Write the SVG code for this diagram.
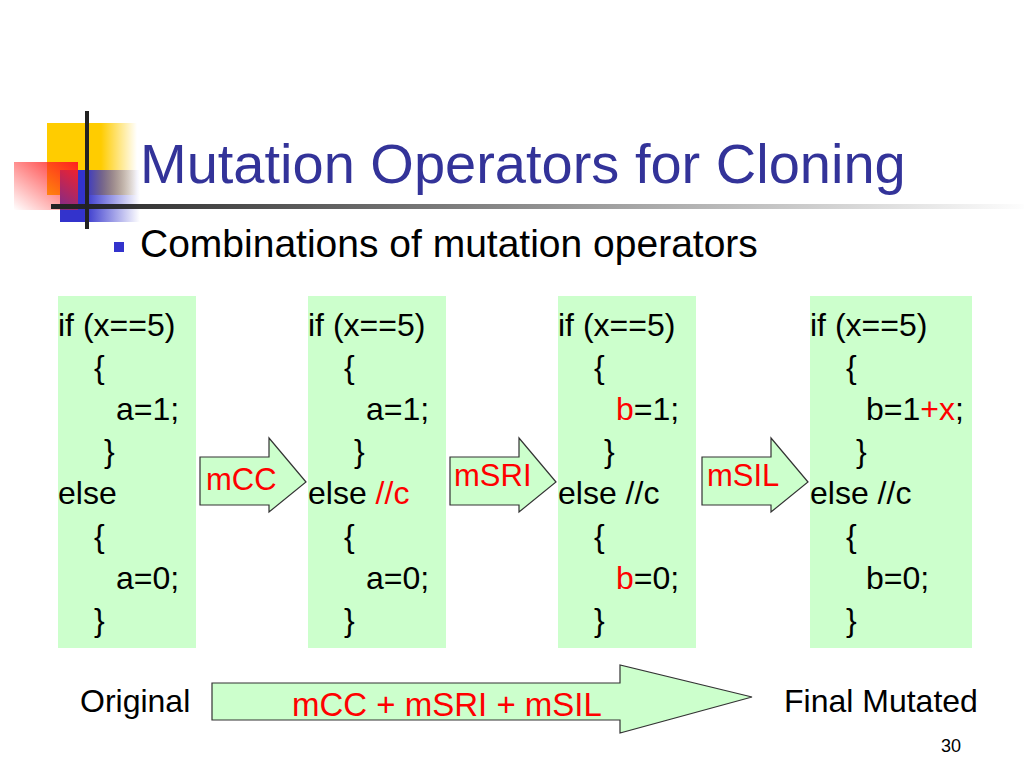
<svg xmlns="http://www.w3.org/2000/svg" width="1024" height="768" viewBox="0 0 1024 768">
<defs>
<linearGradient id="gy" x1="0" x2="1"><stop offset="0.6" stop-color="#ffcc00"/><stop offset="1" stop-color="#ffcc00" stop-opacity="0"/></linearGradient>
<linearGradient id="gb" x1="0" x2="1"><stop offset="0.3" stop-color="#3333cc"/><stop offset="1" stop-color="#3333cc" stop-opacity="0"/></linearGradient>
<linearGradient id="gr" x1="1" x2="0" y1="0" y2="1"><stop offset="0" stop-color="#ff2020"/><stop offset="1" stop-color="#ff2020" stop-opacity="0"/></linearGradient>
<linearGradient id="gl" x1="0" x2="1"><stop offset="0" stop-color="#222"/><stop offset="1" stop-color="#222" stop-opacity="0"/></linearGradient>
<style>
text{font-family:"Liberation Sans",Arial,sans-serif}
.c{font-size:32px;fill:#000}
.r{fill:#ff0000}
.p{fill:#ccffcc}
.a{fill:#ccffcc;stroke:#333;stroke-width:1.2}
</style>
</defs>
<rect x="47" y="123" width="90" height="72" fill="url(#gy)"/>
<rect x="60" y="170" width="80" height="52" fill="url(#gb)"/>
<rect x="14" y="162" width="64" height="48" fill="url(#gr)"/>
<rect x="51" y="204" width="980" height="5" fill="url(#gl)"/>
<rect x="85" y="111" width="4" height="118" fill="#222"/>
<text x="140" y="183" font-size="56" fill="#333399">Mutation Operators for Cloning</text>
<rect x="114" y="242" width="10" height="10" fill="#3333cc"/>
<text x="140" y="257" font-size="39" fill="#000">Combinations of mutation operators</text>
<g id="panel1"><rect class="p" x="58" y="296" width="138" height="352"/>
<text class="c"><tspan x="58" y="336">if (x==5)</tspan><tspan x="94" y="378">{</tspan><tspan x="116" y="420">a=1;</tspan><tspan x="104" y="462">}</tspan><tspan x="58" y="504">else</tspan><tspan x="94" y="547">{</tspan><tspan x="116" y="589">a=0;</tspan><tspan x="94" y="631">}</tspan></text></g>
<g id="panel2"><rect class="p" x="308" y="296" width="138" height="352"/>
<text class="c"><tspan x="308" y="336">if (x==5)</tspan><tspan x="344" y="378">{</tspan><tspan x="366" y="420">a=1;</tspan><tspan x="354" y="462">}</tspan><tspan x="308" y="504">else <tspan class="r">//c</tspan></tspan><tspan x="344" y="547">{</tspan><tspan x="366" y="589">a=0;</tspan><tspan x="344" y="631">}</tspan></text></g>
<g id="panel3"><rect class="p" x="558" y="296" width="138" height="352"/>
<text class="c"><tspan x="558" y="336">if (x==5)</tspan><tspan x="594" y="378">{</tspan><tspan x="616" y="420" class="r">b</tspan><tspan>=1;</tspan><tspan x="604" y="462">}</tspan><tspan x="558" y="504">else //c</tspan><tspan x="594" y="547">{</tspan><tspan x="616" y="589" class="r">b</tspan><tspan>=0;</tspan><tspan x="594" y="631">}</tspan></text></g>
<g id="panel4"><rect class="p" x="810" y="296" width="162" height="352"/>
<text class="c"><tspan x="810" y="336">if (x==5)</tspan><tspan x="846" y="378">{</tspan><tspan x="866" y="420">b=1<tspan class="r">+x</tspan>;</tspan><tspan x="856" y="462">}</tspan><tspan x="810" y="504">else //c</tspan><tspan x="846" y="547">{</tspan><tspan x="866" y="589">b=0;</tspan><tspan x="846" y="631">}</tspan></text></g>
<g id="connectors">
<path class="a" d="M200,457 H269 V438 L306,482 L269,512 V505 H200 Z"/>
<text x="206" y="490" font-size="31" class="r">mCC</text>
<path class="a" d="M450,457 H519 V438 L556,482 L519,512 V505 H450 Z"/>
<text x="454" y="486" font-size="31" class="r">mSRI</text>
<path class="a" d="M702,457 H771 V438 L808,482 L771,512 V505 H702 Z"/>
<text x="707" y="486" font-size="31" class="r">mSIL</text>
<path class="a" d="M212,683 H620 V665 L752,697 L620,733 V720 H212 Z"/>
<text x="292" y="716" font-size="33" class="r">mCC + mSRI + mSIL</text>
</g>
<text x="80" y="712" class="c" font-size="33">Original</text>
<text x="784" y="712" class="c" font-size="33">Final Mutated</text>
<text x="941" y="752" font-size="18">30</text>
</svg>
